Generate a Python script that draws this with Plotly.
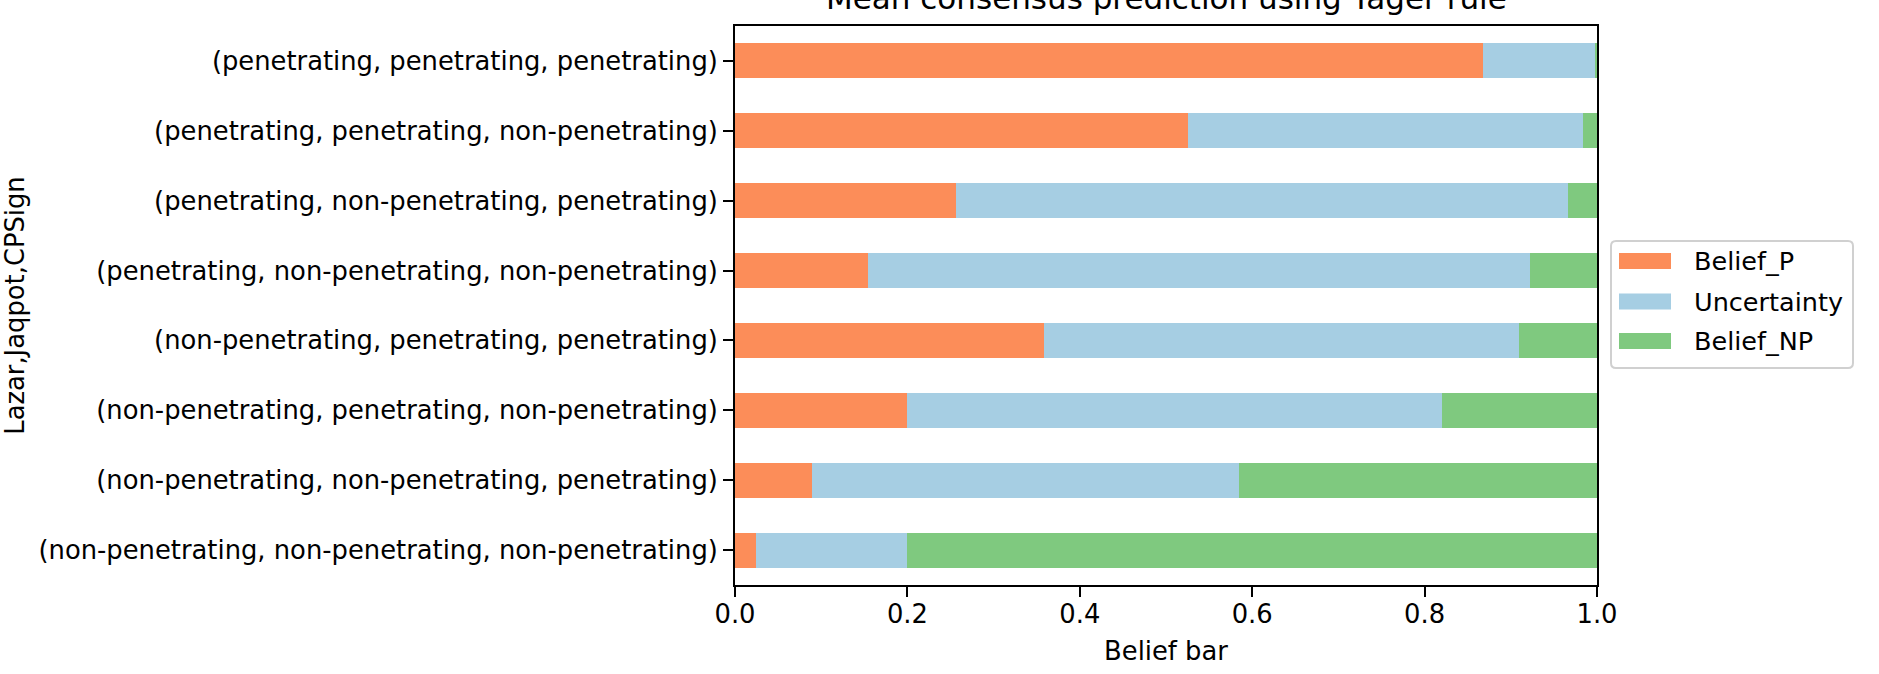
import plotly.graph_objects as go

categories = [
    "(penetrating, penetrating, penetrating)",
    "(penetrating, penetrating, non-penetrating)",
    "(penetrating, non-penetrating, penetrating)",
    "(penetrating, non-penetrating, non-penetrating)",
    "(non-penetrating, penetrating, penetrating)",
    "(non-penetrating, penetrating, non-penetrating)",
    "(non-penetrating, non-penetrating, penetrating)",
    "(non-penetrating, non-penetrating, non-penetrating)",
]
belief_p = [0.868, 0.525, 0.256, 0.154, 0.358, 0.199, 0.089, 0.024]
uncertainty = [0.130, 0.459, 0.710, 0.768, 0.552, 0.621, 0.496, 0.175]
belief_np = [0.002, 0.016, 0.034, 0.078, 0.090, 0.180, 0.415, 0.801]

series_names = ["Belief_P", "Uncertainty", "Belief_NP"]
series_values = [belief_p, uncertainty, belief_np]
colors = ["#fc8d59", "#a6cee3", "#7fc97f"]
x_ticks = [0.0, 0.2, 0.4, 0.6, 0.8, 1.0]
x_tick_labels = ["0.0", "0.2", "0.4", "0.6", "0.8", "1.0"]
title_text = "Mean consensus prediction using Yager rule"
x_title = "Belief bar"
y_title = "Lazar,Jaqpot,CPSign"

FONT = "DejaVu Sans"
FS = 25.8
LFS = 25.5

W, H = 1879, 674
PX0, PX1, PY0, PY1 = 735, 1597, 26, 585  # plot area in pixels
L, R, T, B = PX0, W - PX1, PY0, H - PY1


def px(X):
    return (X - PX0) / (PX1 - PX0)


def py(Y):
    return (PY1 - Y) / (PY1 - PY0)


fig = go.Figure()
for name, vals, col in zip(series_names, series_values, colors):
    fig.add_trace(go.Bar(
        x=vals, y=categories, orientation="h", name=name,
        marker=dict(color=col, line=dict(width=0)),
        showlegend=False, hoverinfo="x+y+name",
    ))

shapes = []
annotations = []

# Legend frame (rounded rectangle)
lx0, lx1, ly0, ly1, rad = 1611, 1853, 241, 368, 5
path = (
    f"M {px(lx0 + rad)} {py(ly0)} L {px(lx1 - rad)} {py(ly0)} "
    f"Q {px(lx1)} {py(ly0)} {px(lx1)} {py(ly0 + rad)} "
    f"L {px(lx1)} {py(ly1 - rad)} Q {px(lx1)} {py(ly1)} {px(lx1 - rad)} {py(ly1)} "
    f"L {px(lx0 + rad)} {py(ly1)} Q {px(lx0)} {py(ly1)} {px(lx0)} {py(ly1 - rad)} "
    f"L {px(lx0)} {py(ly0 + rad)} Q {px(lx0)} {py(ly0)} {px(lx0 + rad)} {py(ly0)} Z"
)
shapes.append(dict(type="path", xref="paper", yref="paper", path=path,
                   line=dict(color="#d0d0d0", width=2), fillcolor="white",
                   layer="above"))
entry_centers = [261, 301.5, 341]
for name, col, yc in zip(series_names, colors, entry_centers):
    shapes.append(dict(type="rect", xref="paper", yref="paper",
                       x0=px(1619), x1=px(1671), y0=py(yc + 8), y1=py(yc - 8),
                       fillcolor=col, line=dict(width=0), layer="above"))
    annotations.append(dict(text=name, xref="paper", yref="paper",
                            x=px(1692), y=py(yc), xanchor="left", yanchor="middle",
                            showarrow=False, font=dict(family=FONT, size=LFS, color="black")))

# Title (partly cut at the top edge, as in the original)
annotations.append(dict(text=title_text, xref="paper", yref="paper",
                        x=0.5, y=py(-2), xanchor="center", yanchor="middle",
                        showarrow=False, font=dict(family=FONT, size=31, color="black")))

fig.update_layout(
    width=W, height=H,
    margin=dict(l=L, r=R, t=T, b=B, autoexpand=False),
    paper_bgcolor="white", plot_bgcolor="white",
    barmode="stack", bargap=0.5,
    showlegend=False,
    font=dict(family=FONT, size=FS, color="black"),
    xaxis=dict(
        range=[0, 1], tickvals=x_ticks, ticktext=x_tick_labels,
        showgrid=False, zeroline=False,
        showline=True, linecolor="black", linewidth=2, mirror=True,
        ticks="outside", ticklen=10, tickwidth=2, tickcolor="black",
        ticklabelstandoff=-5,
        title=dict(text=x_title, standoff=14, font=dict(size=FS)),
    ),
    yaxis=dict(
        type="category", categoryorder="array", categoryarray=categories,
        autorange="reversed",
        showgrid=False, zeroline=False,
        showline=True, linecolor="black", linewidth=2, mirror=True,
        ticks="outside", ticklen=10, tickwidth=2, tickcolor="black",
        title=dict(text=y_title, standoff=20, font=dict(size=FS)),
    ),
    shapes=shapes,
    annotations=annotations,
)

fig.write_html("out.html")
